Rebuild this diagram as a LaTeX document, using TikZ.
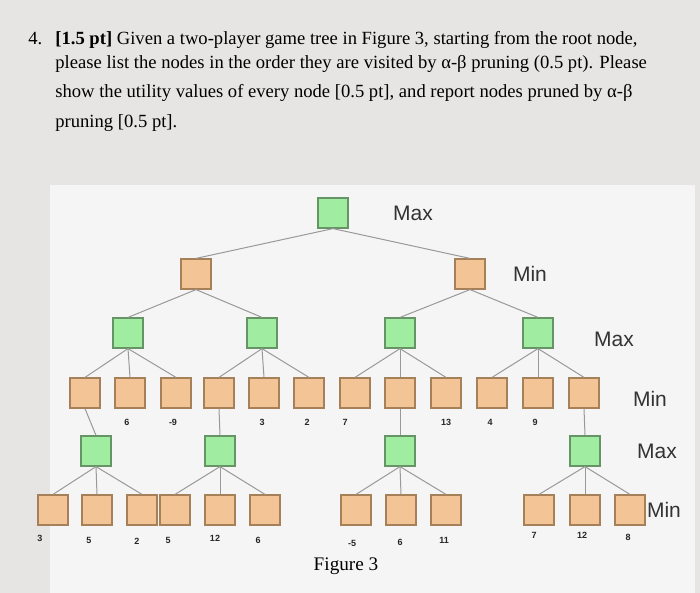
\documentclass[tikz,border=0pt]{standalone}
\usepackage{fontspec}
\setmainfont{Liberation Serif}
\setsansfont{Liberation Sans}
\begin{document}
\begin{tikzpicture}[x=0.5pt,y=-0.5pt,
  gn/.style={draw=green!30!black!60,fill=green!35!white!85!gray,line width=0.6pt,minimum size=15pt,inner sep=0pt},
  on/.style={draw=brown!60!gray,fill=orange!40!white!90!gray,line width=0.6pt,minimum size=15pt,inner sep=0pt},
  ed/.style={draw=gray!80,line width=0.5pt},
  lv/.style={font=\sffamily\fontsize{10.5}{12}\selectfont,text=black!80},
  lf/.style={font=\sffamily\bfseries\fontsize{4.5}{5}\selectfont,text=black!85},
  tx/.style={anchor=base west,inner sep=0pt,font=\fontsize{9.3}{11}\selectfont}]
\fill[black!5!brown!8!gray!20] (0,0) rectangle (700,593);
\fill[gray!8] (50,185) rectangle (695,593);
\node[tx] at (28,45) {4.};
\node[tx] (l1) at (55,45) {\textbf{[1.5 pt]} Given a two-player game tree in Figure 3, starting from the root node,};
\node[tx] (l2) at (55,69) {please list the nodes in the order they are visited by α-β pruning (0.5 pt). Please};
\node[tx] (l3) at (55,98) {show the utility values of every node [0.5 pt], and report nodes pruned by α-β};
\node[tx] (l4) at (55,128) {pruning [0.5 pt].};
% nodes
\node[gn] (r) at (333,213) {};
\node[on] (a) at (196,274) {};
\node[on] (b) at (470,274) {};
\node[gn] (a1) at (128,333) {};
\node[gn] (a2) at (262,333) {};
\node[gn] (b1) at (400,333) {};
\node[gn] (b2) at (538,333) {};
\foreach \n/\x in {c1/85,c2/130,c3/176,c4/219,c5/264,c6/309,c7/355,c8/400,c9/446,c10/492,c11/538,c12/584}
  \node[on] (\n) at (\x,393) {};
\node[gn] (d1) at (96,451) {};
\node[gn] (d2) at (220,451) {};
\node[gn] (d3) at (400,451) {};
\node[gn] (d4) at (585,451) {};
\foreach \n/\x in {e1/53,e2/97,e3/142,e4/175,e5/220,e6/265,e7/356,e8/401,e9/446,e10/539,e11/585,e12/630}
  \node[on] (\n) at (\x,510) {};
% edges
\foreach \p/\c in {r/a,r/b,a/a1,a/a2,b/b1,b/b2,a1/c1,a1/c2,a1/c3,a2/c4,a2/c5,a2/c6,b1/c7,b1/c8,b1/c9,b2/c10,b2/c11,b2/c12,c1/d1,c4/d2,c8/d3,c12/d4,d1/e1,d1/e2,d1/e3,d2/e4,d2/e5,d2/e6,d3/e7,d3/e8,d3/e9,d4/e10,d4/e11,d4/e12}
  \draw[ed] (\p.south) -- (\c.north);
% level labels
\node[lv] at (413,213) {Max};
\node[lv] at (530,274) {Min};
\node[lv] at (614,339) {Max};
\node[lv] at (650,399) {Min};
\node[lv] at (657,451) {Max};
\node[lv] at (664,510) {Min};
% leaf values
\foreach \x/\v in {127/6,173/-9,262/3,307/2,345/7,446/13,490/4,535/9}
  \node[lf] at (\x,422) {\v};
\foreach \x/\v/\y in {40/3/538,89/5/540,137/2/541,168/5/540,215/12/538,258/6/540,352/-5/543,400/6/542,444/11/540,534/7/535,582/12/535,628/8/537}
  \node[lf] at (\x,\y) {\v};
\node[font=\fontsize{9.6}{11}\selectfont] (cap) at (346,566) {Figure 3};
\end{tikzpicture}
\end{document}
